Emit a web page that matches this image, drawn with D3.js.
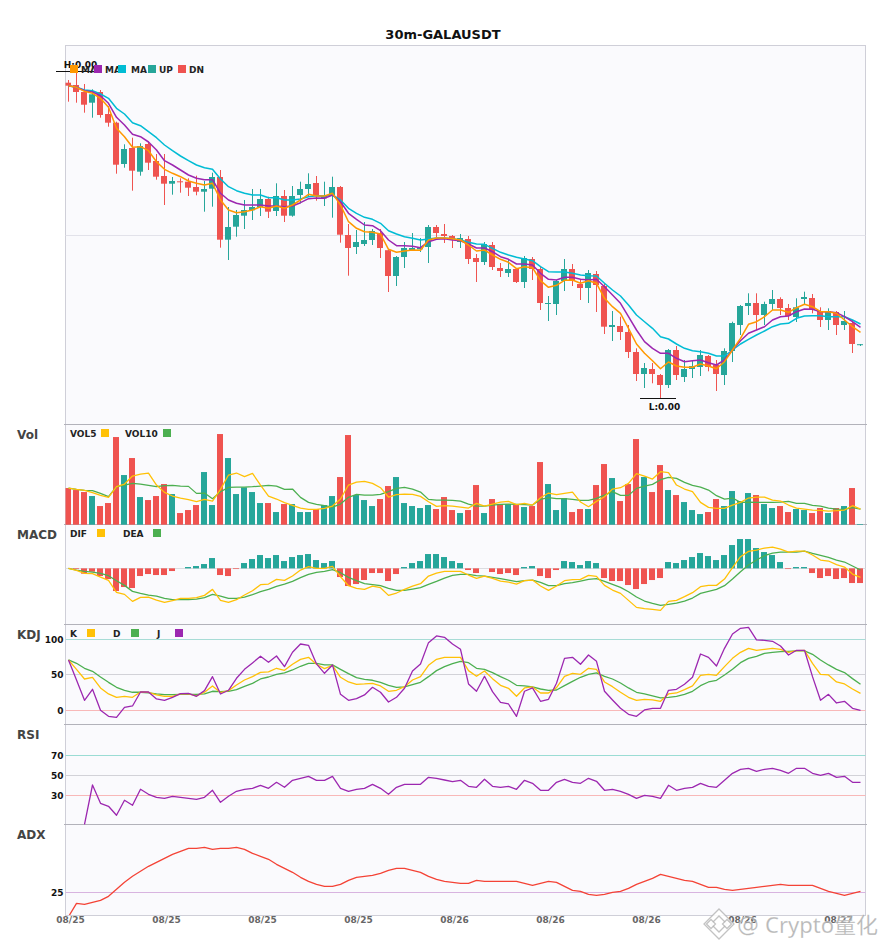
<!DOCTYPE html>
<html><head><meta charset="utf-8">
<script src="https://cdn.jsdelivr.net/npm/d3@7/dist/d3.min.js"></script>
<style>html,body{margin:0;padding:0;background:#fff}svg{display:block}text{font-family:"DejaVu Sans",sans-serif}</style>
</head><body><div id="chart"></div>
<script>
const title = "30m-GALAUSDT";
const dateLabels = ["08/25","08/25","08/25","08/25","08/26","08/26","08/26","08/26","08/27"];
const mainLegend = ["MA","MA","MA","UP","DN"];
const highLabel = "H:0.00", lowLabel = "L:0.00";

// price readings (relative units)
const open = [342.3,340,333,322.3,333,311,302.3,261,277,253.3,
281,264,249,241.3,243.7,243.3,238,233.3,236.3,248,
185.3,198.3,209.3,214.7,218,226,214,229,209.3,230,
236,242,226.7,230,238,190,178,181,185,192,
174.8,149,168,175,175.7,178,198,191,189,183,
186,167,163,180,157,152,156,143,166,156,
121.3,121,144,156,141,137,151,139,98,99,
93,73,51,56,50,40,75,48,56,58,
69,60,50,74,100,119,122,110,121,126,
117,108,126,127,114,105,113,100,102,80];
const close = [339.3,333,320.3,330.7,310,302.3,260.3,276,254.3,279,
262.3,248.3,241.3,244,243.3,237.3,233.3,236,248,185.3,
198,210,215,218,226,213.3,229,209.3,229,236,
241,229,229,238,190.3,177,183,185,194,177,
149,168,177,177,177.7,198,192,189,186,187,
166,163,181,158,154,156,143,167,156,122,
122,144,156,144,137,152,140,98.3,100,93,
73,51,57,51,40,75,50,56,59,70,
58,51,74,102,119,122,110,121,126,117,
109,117.7,128,115,105,114,100,104,81,80.8];
const high = [345,353.3,341,335.7,335,319,303.3,280.7,287.3,281.7,
283.3,271,271,248,246.7,246.7,249.3,244,252.3,255,
218,215,225,236,236,228.3,241.7,235,239,243.3,
251.7,249,243.3,248.3,239,201,195,203,196,196,
175,169,183,192,187,200,200,201,190,191,
189,171,183,183,162,165,157,169,168,159,
129,145,166,161,145,155,154,141.7,114,108.3,
100,76.7,62,62,51,76,79,65,65,75,
70,65,76.7,103.3,120,131.7,131.7,123.3,135,127.7,
121,126.7,133.3,131,117.7,116.7,114,114,105,81];
const low = [323.3,322.3,312.3,307.3,307.3,298.3,251.3,257.3,234.3,249.3,
255,245.3,220,230.3,232.3,229,229.7,213.3,218.3,177.3,
165,188.3,196,205,209,207,209,203,208.3,221.7,
228.3,224.3,219,207.3,182.3,149.3,171,179,180,167,
133,139,157,174,173,162,188,182,177,177,
161,143,160,155,148,148,142,137,145,115,
104,110,134,139,125,122,113,91,84,85,
67,44,37,41.7,27,37,45,43,47,49,
53.7,34,40,63,90,110,95,100,115,110,
105,103,120,111.7,98,95,90,95,72,79];

const ma5 = [339.3,337.7,333.7,331.7,326.7,317.7,296.7,288.3,277.7,278.3,
274.3,263.3,255.7,251.7,248.3,244,241.7,240,241.7,225,
215,212.3,213.3,215,218.3,216.7,219,216.7,220,225,
230.7,229,229,231.7,220,203.3,196.7,193.3,192.7,191,
175.7,172.7,174,175,174.7,185,187,187,186.3,185,
180,174,175,170,165.7,162.7,156.3,158.3,157.3,144.3,
137.7,139.7,144.7,145,141.7,144.3,141.7,126.7,118.3,111.7,
96.7,81,71.7,64.3,56.3,63,59,57.7,57.7,61,
59,56.3,63.3,75,86.7,100.7,103.3,108.3,115,115,
112.7,117.3,120.7,118.3,113.3,113.3,111.7,105,98.3,92.7];
const ma10 = [339.3,337.7,334.3,333,329.3,321.7,307.7,300,290.7,288.3,
283,275,264.3,260,255,250,246.7,245.3,245.3,231.7,
225,221.7,220,220,220,219,219,218.3,219,222.3,
226.3,227,226.7,230,223.3,211.7,205.7,200,199.3,194.3,
185,179.3,179.3,178.7,177.3,183.3,185.7,186.3,185,184.3,
181,177,177,173.3,168.3,165.7,161,161,160,151.7,
145.7,145,147.7,147.7,145.7,145,145.7,138.3,130,121.7,
108.3,95,83.3,76.7,71.7,71.7,66.7,63.3,64.3,65,
62.3,60,65,75,84.3,91.7,95,98.3,105,108.3,
109,113.3,116,115.7,113.3,113.3,112.3,108.3,103.3,97.7];
const ma20 = [339.3,337.7,335,334.3,331,326.7,316.7,311,302.3,299.3,
293.3,287.3,280,274.3,269,264.3,260,257.3,255.7,246,
238.3,234.3,231.7,230,230,227.3,227.3,225,225,226,
228.3,229.3,229,230,225,216.7,211.7,207.7,205.7,201.7,
194.3,191,188.3,186.7,185,186,187,187,186.3,185,
182.7,181,180.7,176.7,172.7,170,167.7,166,164.3,158.3,
153.3,153,153,151.7,150,149.3,149,141.7,135,129,
120,110,103.3,96.7,88.3,86,81,76.7,74.3,73.3,
71.7,69,69,75,81,85.7,90,94,98.3,101,
101.7,106.7,109,109.3,109.3,108.3,108.3,108.3,105,101];

const volume = [110,104,98,86,56,65,263,149,200,83,
74,86,122,92,35,44,59,158,59,272,
200,92,112,98,65,65,38,62,62,38,
38,47,59,86,143,269,89,74,56,77,
116,143,65,56,50,59,47,83,44,35,
44,119,35,77,62,62,59,53,56,188,
122,44,80,38,47,47,119,182,140,71,
122,257,143,98,179,104,89,68,44,32,
38,77,56,101,71,95,89,62,50,56,
38,47,44,35,50,35,50,56,110,2];
const vol5 = [110,106,103,96,88,82,114,122,146,152,
155,119,97,86,80,75,69,76,71,106,
149,155,144,154,119,86,77,66,58,50,
46,46,49,56,77,119,128,130,124,111,
83,90,92,91,85,69,55,57,56,53,
50,64,56,62,68,70,60,64,59,81,
95,90,94,98,68,54,70,84,107,111,
124,153,146,137,159,156,119,107,99,67,
52,49,49,59,67,80,83,83,74,71,
59,50,47,44,43,41,42,44,57,47];
const vol10 = [110,106,103,102,94,84,114,119,124,122,
118,114,117,118,116,115,94,95,78,99,
112,113,113,114,116,118,116,106,107,82,
67,61,57,53,62,82,91,89,89,91,
99,109,112,107,98,76,74,74,73,71,
62,56,56,59,61,62,61,60,59,76,
81,78,78,76,73,73,79,89,99,88,
88,109,116,121,135,142,139,127,118,113,
104,87,77,80,67,68,67,67,67,68,
70,64,64,58,56,50,47,46,51,47];

const macdHist = [0,-2,-16,-10,-23,-32,-68,-56,-59,-23,
-17,-20,-20,-8,0,4,7,13,31,-20,
-23,-2,16,28,40,31,40,22,34,40,
43,25,16,22,-26,-53,-47,-35,-14,-14,
-38,-17,4,16,22,43,43,34,22,16,
-5,-14,0,-11,-17,-14,-20,4,7,-23,
-29,-5,22,19,10,22,16,-29,-38,-38,
-50,-62,-47,-35,-29,19,16,25,34,46,
37,25,40,70,88,88,61,49,40,19,
-2,4,4,-14,-29,-23,-32,-29,-44,-44];
const dif = [0,-6,-15,-16,-26,-36,-72,-78,-99,-87,
-86,-95,-102,-97,-90,-90,-88,-81,-63,-96,
-102,-94,-80,-67,-49,-47,-33,-36,-23,-5,
5,0,0,6,-25,-52,-60,-63,-53,-58,
-81,-74,-63,-53,-46,-23,-14,-9,-9,-9,
-20,-30,-23,-30,-38,-41,-47,-37,-35,-53,
-66,-53,-37,-34,-33,-21,-24,-51,-65,-75,
-96,-117,-121,-123,-126,-99,-96,-85,-73,-55,
-51,-51,-32,2,35,51,55,61,64,58,
49,52,52,40,25,22,11,4,-17,-27];
const dea = [0,-5,-9,-11,-15,-22,-37,-51,-69,-75,
-80,-83,-90,-94,-94,-94,-92,-88,-78,-83,
-90,-90,-86,-79,-70,-63,-54,-47,-39,-28,
-18,-12,-9,-4,-13,-27,-37,-46,-49,-52,
-60,-66,-66,-62,-58,-48,-39,-29,-21,-18,
-18,-22,-23,-27,-31,-35,-40,-37,-35,-42,
-52,-52,-46,-43,-38,-33,-31,-39,-48,-57,
-70,-86,-98,-105,-111,-108,-104,-98,-89,-75,
-69,-63,-52,-32,-10,10,25,38,46,49,
49,49,52,45,39,33,25,19,7,-5];

const kdjK = [70.9,57.7,44.1,46.5,31.5,23,18.3,19.7,18.3,25.8,
25.4,21.6,19.7,19.7,23,23,20.2,25.4,34.3,24.9,
27.7,35.7,42.7,47.4,53.5,54,59.2,56.3,64.8,71.8,
74.6,64.8,58.7,63.4,46.5,39.9,36.6,37.1,38,34.3,
26.8,28.2,33.3,42.7,47.4,63.4,71.8,74.6,74.6,74.6,
55.9,47.9,55.4,44.6,35.2,31,19.7,31.5,32.9,24.4,
24.4,31.9,47.9,52.1,50.7,59.2,57.7,39.9,33.3,25.4,
18.3,14.1,15.5,14.6,12.7,23,24.4,29.1,34.3,49.3,
50.7,49.3,61.5,73.2,81.7,87.3,84.5,85.9,87.3,85.9,
81.7,84,84.5,66.2,50.7,49.8,39.9,37.1,30,23.9];
const kdjD = [70.9,66.2,59.2,54.9,46.9,39.4,32.4,28.2,25.4,25.4,
24.4,23,22.1,22.1,22.5,22.5,22.5,23,26.8,26.3,
26.8,29.1,33.8,38,44.1,46.9,50.7,52.6,56.8,62,
66.2,66.2,63.9,63.9,57.7,51.6,46,43.7,42.3,39.4,
35.2,32.4,32.9,36.2,39.4,47.4,55.9,61.5,65.7,69,
67.1,59.2,57.7,53.1,47.4,42.3,35.2,34.3,32.9,30,
28.2,28.6,34.7,40.8,46.5,50.7,52.6,47.9,44.1,38.5,
31.5,25.4,23,20.2,17.4,18.3,19.7,22.5,26.8,34.7,
39.9,42.3,49.8,57.7,67.1,73.2,76.1,80.3,81.7,82.6,
83.1,83.6,83.6,78.9,70.9,63.9,57.7,53.1,44.6,36.6];
const kdjJ = [70.9,42.7,14.1,29.6,0,-8.5,-9.9,4.2,6.1,25.8,
25.8,16,14.1,18.3,23.5,23.9,19.7,27.7,47.4,23,
28.2,45.1,57.7,66.7,76.1,67.6,76.5,61.5,81.7,93.4,
91.6,65.3,52.1,63.9,22.5,14.1,16.4,21.6,32.4,25.4,
11.7,18.3,31,55.4,65.3,95.3,104.7,102.8,93.4,85.9,
37.1,26.8,47.9,26.3,11.3,8.9,-8.5,26.8,31.5,12.7,
15.5,38,73.2,74.6,64.8,77.9,69,26.8,14.6,2.8,
-5.6,-8.5,0.5,2.8,2.8,28.2,29.6,36.6,46.5,79.3,
74.6,62.4,87.3,107.5,115.5,116.9,99.1,98.6,97.2,90.6,
77.9,84.5,84.5,47.4,14.1,22.5,10.3,12.7,2.8,0];

const rsi = [null,null,1,40.3,22,19,10,25,20,36,
31,28,27,29,28,27,26,28,35,23,
29,34,36,37,40,37,43,38,45,47,
49,45,45,49,37,34,36,37,41,37,
31,38,41,41,41,48,47,45.3,43.6,45,
39,38,46,39,38,39,36,45,42,35,
35,43,46,43,42,47,44,35,36,34,
31,27,30,29,27,40,35,37,38,42,
39,38,45,52,56,57,54,56,57,55,
52,57,57,52,50,52,48,49,43,43];
const adx = [12.8,19.5,19,20,21,23,26.5,30,33,35.5,
38,40,42,44,45.5,47,47,47.5,46.5,47,
47,47.5,46.5,44.5,43,41.5,39,37,35,32.5,
30.5,29,28,28,29,31,32.5,33,33.5,34.5,
36,37,37,36,35,33,31.5,30.5,30,29.5,
29.5,31,30.5,30.5,30.5,30.5,30.5,29.5,28.5,29.5,
30.5,30,28,26,25.5,24,23.5,24,25,25.5,
27,29,30.5,32,34,33,32,31,30.5,29,
27.5,27.5,26.5,26,26.5,27,27.5,28,28.5,29,
28.5,28.5,28.5,28.5,27,25.5,24.5,23.5,24.5,25.5];

const kdjLevels = [100,50,0], rsiLevels = [70,50,30], adxLevels = [25];

const W = 885, H = 950;
const UP = "#26a69a", DN = "#ef5350";
const indices = d3.range(open.length);
const svg = d3.select("#chart").append("svg").attr("width",W).attr("height",H);
const defs = svg.append("defs");

const L = 65.5, R = 865.5;
const x = d3.scaleLinear().domain([0,99]).range([68,860]);

const yPrice = d3.scaleLinear().domain([0,380]).range([425,45]);
const yVol = d3.scaleLinear().domain([0,300]).range([524.7,424.7]);
const yMacd = d3.scaleLinear().domain([-169,131]).range([624.7,524.7]);
const yKdj = d3.scaleLinear().domain([-20,120.85]).range([724.5,624.5]);
const yRsi = d3.scaleLinear().domain([0,100]).range([825.3,725.3]);
const yAdx = d3.scaleLinear().domain([13.65,58.65]).range([915,825]);

// frame and plot background
svg.append("rect").attr("x",L).attr("y",45.5).attr("width",R-L).attr("height",870)
  .attr("fill","#fafafd").attr("stroke","#cfcfd8").attr("stroke-width",1);

[424.5,524.5,624.5,724.5,824.5].forEach(p=>{
  svg.append("line").attr("x1",L-1.5).attr("x2",R+1.5).attr("y1",p).attr("y2",p)
    .attr("stroke","#b2b2ba").attr("stroke-width",1);
});

[["main",45,425],["vol",425,525],["macd",525,625],["kdj",625,725],["rsi",725,825],["adx",825,915]].forEach(([id,a,b])=>{
  defs.append("clipPath").attr("id","clip-"+id).append("rect")
    .attr("x",L).attr("y",a).attr("width",R-L).attr("height",b-a);
});

function levelLines(scale, levels, colours){
  levels.forEach((v,i)=>{
    const py = Math.round(scale(v)-0.5)+0.5;
    svg.append("line").attr("x1",L).attr("x2",R).attr("y1",py).attr("y2",py)
      .attr("stroke",colours[i]).attr("stroke-width",1);
  });
}
function drawLine(group, values, scale, colour, width){
  const gen = d3.line().defined(d=>values[d]!=null).x(d=>x(d)+0.5).y(d=>scale(values[d]));
  group.append("path").datum(indices).attr("d",gen).attr("fill","none")
    .attr("stroke",colour).attr("stroke-width",width).attr("stroke-linejoin","round");
}
function panel(id){ return svg.append("g").attr("clip-path","url(#clip-"+id+")"); }
function panelTitle(t,y){
  svg.append("text").attr("x",17).attr("y",y).attr("font-size",12).attr("font-weight","bold")
    .attr("fill","#444").text(t);
}
function legend(items,yc){
  const g = svg.append("g");
  items.forEach(it=>{
    g.append("text").attr("x",it.tx).attr("y",yc+3.5).attr("font-size",9).attr("font-weight","bold")
      .attr("fill","#222").text(it.label);
  });
  items.forEach(it=>{
    g.append("rect").attr("x",it.sx).attr("y",yc-4).attr("width",8).attr("height",8).attr("fill",it.colour);
  });
}

// main panel
levelLines(yPrice,[189.5],["#e2e2ea"]);
const gMain = panel("main");
const candles = gMain.selectAll("g.c").data(indices).join("g").attr("class","c");
const candleColour = i => close[i] > open[i] ? UP : DN;
candles.append("line").attr("x1",i=>x(i)+0.5).attr("x2",i=>x(i)+0.5)
  .attr("y1",i=>yPrice(high[i])).attr("y2",i=>yPrice(low[i]))
  .attr("stroke",candleColour).attr("stroke-width",1);
candles.append("rect").attr("x",i=>x(i)-3).attr("width",6)
  .attr("y",i=>yPrice(Math.max(open[i],close[i])))
  .attr("height",i=>Math.max(1,Math.abs(yPrice(open[i])-yPrice(close[i]))))
  .attr("fill",candleColour);
drawLine(gMain,ma20,yPrice,"#00bcd4",1.5);
drawLine(gMain,ma10,yPrice,"#9c27b0",1.5);
drawLine(gMain,ma5,yPrice,"#ff9800",1.5);

// extreme markers
function extreme(i,value,label,textY){
  const py = Math.round(yPrice(value)-0.5)+0.5;
  svg.append("line").attr("x1",x(i)-20).attr("x2",x(i)+16).attr("y1",py).attr("y2",py)
    .attr("stroke","#111").attr("stroke-width",1);
  svg.append("text").attr("x",x(i)+4.5).attr("y",textY).attr("text-anchor","middle")
    .attr("font-size",9).attr("font-weight","bold").attr("fill","#111").text(label);
}
const iHigh = d3.greatestIndex(high), iLow = d3.leastIndex(low);
extreme(iHigh,high[iHigh],highLabel,68);
extreme(iLow,low[iLow],lowLabel,410);

legend([
 {label:mainLegend[0],tx:81,sx:70,colour:"#ff9800"},
 {label:mainLegend[1],tx:105,sx:94,colour:"#9c27b0"},
 {label:mainLegend[2],tx:131,sx:118,colour:"#00bcd4"},
 {label:mainLegend[3],tx:159,sx:148,colour:UP},
 {label:mainLegend[4],tx:189,sx:178,colour:DN}],69);

// volume
const gVol = panel("vol");
gVol.selectAll("rect").data(indices).join("rect")
  .attr("x",i=>x(i)-3).attr("width",6)
  .attr("y",i=>yVol(volume[i])).attr("height",i=>yVol(0)-yVol(volume[i]))
  .attr("fill",candleColour);
drawLine(gVol,vol10,yVol,"#4caf50",1.3);
drawLine(gVol,vol5,yVol,"#ffc107",1.3);
panelTitle("Vol",439);
legend([{label:"VOL5",tx:70,sx:101,colour:"#ffc107"},{label:"VOL10",tx:125,sx:163,colour:"#4caf50"}],433);

// MACD
levelLines(yMacd,[0],["#dcdce0"]);
const gMacd = panel("macd");
gMacd.selectAll("rect").data(indices).join("rect")
  .attr("x",i=>x(i)-3).attr("width",6)
  .attr("y",i=>yMacd(Math.max(0,macdHist[i])))
  .attr("height",i=>Math.abs(yMacd(0)-yMacd(macdHist[i])))
  .attr("fill",i=>macdHist[i]>=0?UP:DN);
drawLine(gMacd,dea,yMacd,"#4caf50",1.3);
drawLine(gMacd,dif,yMacd,"#ffc107",1.3);
panelTitle("MACD",539);
legend([{label:"DIF",tx:70,sx:97,colour:"#ffc107"},{label:"DEA",tx:123,sx:153,colour:"#4caf50"}],533);

// KDJ
levelLines(yKdj,kdjLevels,["#a8dcd6","#d2d2d8","#f8b8b8"]);
const gKdj = panel("kdj");
drawLine(gKdj,kdjD,yKdj,"#4caf50",1.3);
drawLine(gKdj,kdjK,yKdj,"#ffc107",1.3);
drawLine(gKdj,kdjJ,yKdj,"#9c27b0",1.3);
panelTitle("KDJ",639);
legend([{label:"K",tx:70,sx:87,colour:"#ffc107"},{label:"D",tx:113,sx:131,colour:"#4caf50"},{label:"J",tx:157,sx:175,colour:"#9c27b0"}],633);

// RSI
levelLines(yRsi,rsiLevels,["#9adcd4","#d2d2d8","#f8b8b8"]);
drawLine(panel("rsi"),rsi,yRsi,"#9c27b0",1.3);
panelTitle("RSI",739);

// ADX
levelLines(yAdx,adxLevels,["#d8b4e0"]);
drawLine(panel("adx"),adx,yAdx,"#f44336",1.3);
panelTitle("ADX",839);

// value axes and date axis
function valueAxis(scale,levels){
  const g = svg.append("g").attr("transform",`translate(${L-2},0)`)
    .call(d3.axisLeft(scale).tickValues(levels).tickSize(0).tickPadding(0).tickFormat(d3.format("d")));
  g.select(".domain").remove();
  g.selectAll("text").attr("font-size",9).attr("font-weight","bold").attr("fill","#111")
    .attr("font-family","DejaVu Sans");
}
valueAxis(yKdj,kdjLevels);
valueAxis(yRsi,rsiLevels);
valueAxis(yAdx,adxLevels);

const tickIdx = dateLabels.map((d,i)=>i*12);
const gx = svg.append("g").attr("transform","translate(2,915)")
  .call(d3.axisBottom(x).tickValues(tickIdx).tickSize(0).tickPadding(2).tickFormat((d,i)=>dateLabels[i]));
gx.select(".domain").remove();
gx.selectAll("text").attr("font-size",9).attr("font-weight","bold").attr("fill","#666")
  .attr("font-family","DejaVu Sans");

// title
svg.append("text").attr("x",443).attr("y",39).attr("text-anchor","middle")
  .attr("font-size",13).attr("font-weight","bold").attr("fill","#111").text(title);

// watermark
const wm = svg.append("g");
const dia = (cx,cy,r,fill)=>wm.append("path")
  .attr("d",d3.line()([[cx,cy-r],[cx+r,cy],[cx,cy+r],[cx-r,cy]])+"Z")
  .attr("fill",fill).attr("stroke","rgba(175,175,175,.75)").attr("stroke-width",1.3);
dia(719,924,15,"rgba(255,255,255,.85)");
dia(719,924,8,"rgba(255,255,255,.9)");
dia(711,924,4.5,"rgba(255,255,255,.9)");
dia(727,924,4.5,"rgba(255,255,255,.9)");
wm.append("text").attr("x",737).attr("y",932).attr("font-size",22)
  .attr("fill","rgba(165,165,165,.8)").attr("stroke","rgba(255,255,255,.5)").attr("stroke-width",.4).text("@");
wm.append("text").attr("x",765).attr("y",933).attr("font-size",22)
  .style("font-family",'"Noto Sans","Noto Sans CJK SC",sans-serif')
  .attr("fill","rgba(165,165,165,.8)").attr("stroke","rgba(255,255,255,.5)").attr("stroke-width",.4).text("Crypto量化");
</script></body></html>
